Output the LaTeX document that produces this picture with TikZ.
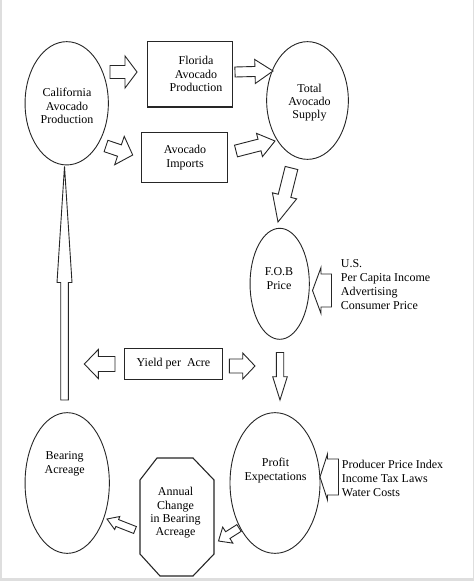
\documentclass[tikz,border=0pt]{standalone}
\usepackage{fontspec}
\setmainfont{Liberation Serif}
\usetikzlibrary{calc,shapes.geometric}
\tikzset{
  oval/.style={draw=black!85, line width=0.9pt, ellipse, inner sep=0pt},
  box/.style={draw=black!85, line width=1.1pt, inner sep=0pt},
  lbl/.style={align=center, font=\fontsize{12}{13.4}\selectfont, inner sep=0pt},
  side/.style={align=left, font=\fontsize{12}{13.9}\selectfont, inner sep=0pt, anchor=west},
  barrow/.style={draw=black!85, line width=0.9pt, line join=miter, fill=white},
}
\newcommand\blockarrow[5]{%
  \coordinate (#1-#2-h) at ($(#2)!#5!(#1)$);
  \draw[barrow] ($(#1)!#3!90:(#2)$) -- ($(#1-#2-h)!#3!-90:(#1)$) -- ($(#1-#2-h)!#4!-90:(#1)$)
    -- (#2) -- ($(#1-#2-h)!#4!90:(#1)$) -- ($(#1-#2-h)!#3!90:(#1)$) -- ($(#1)!#3!-90:(#2)$) -- cycle;
}
\begin{document}
\begin{tikzpicture}[x=1pt,y=-1pt]
\useasboundingbox (0,0) rectangle (474,581);
\fill[black!13] (0,0) rectangle (474,581);
\fill[white] (2,0) rectangle (472.5,578);

% ellipses
\node[oval, minimum width=83.3pt, minimum height=123.3pt] (cal) at (66.7,103.3) {};
\node[oval, minimum width=81.7pt, minimum height=117.7pt] (tot) at (307.5,100.5) {};
\node[oval, minimum width=59.3pt, minimum height=111pt] (fob) at (279.7,283.8) {};
\node[oval, minimum width=84.3pt, minimum height=140.7pt] (bear) at (67.2,483) {};
\node[oval, minimum width=90pt, minimum height=140.7pt] (prof) at (275,483) {};

% boxes
\node[box, minimum width=85pt, minimum height=65.3pt] (fla) at (190.2,74.3) {};
\node[box, minimum width=86pt, minimum height=50pt] (imp) at (184.7,157.7) {};
\node[box, minimum width=98.7pt, minimum height=31pt] (yld) at (173.4,363.8) {};
\draw[box] (157,458) -- (193,458) -- (214,480) -- (214,554) -- (193,576) -- (160,576) -- (140,554) -- (140,480) -- cycle;

% labels
\node[lbl] (calt) at (67,106) {California\\Avocado\\Production};
\node[lbl] (flat) at (196,74) {Florida\\Avocado\\Production};
\node[lbl] (tott) at (309.5,102.7) {Total\\Avocado\\Supply};
\node[lbl] (impt) at (185,157.5) {Avocado\\Imports};
\node[lbl] (fobt) at (279,278.5) {F.O.B\\Price};
\node[lbl] (yldt) at (173.5,364) {Yield per\ \ Acre};
\node[lbl] (beart) at (64.7,463.7) {Bearing\\Acreage};
\node[lbl] (proft) at (275.5,470.7) {Profit\\Expectations};
\node[lbl] (annt) at (175.5,513) {Annual\\Change\\in Bearing\\Acreage};
\node[side] (ust) at (340.7,284.5) {U.S.\\Per Capita Income\\Advertising\\Consumer Price};
\node[side] (ppt) at (341.7,478.7) {Producer Price Index\\Income Tax Laws\\Water Costs};

% block arrows
\coordinate (a1t) at (110,72);    \coordinate (a1h) at (137,72);
\blockarrow{a1t}{a1h}{6.5pt}{16pt}{12pt}
\coordinate (a2t) at (235,72);    \coordinate (a2h) at (273,71);
\blockarrow{a2t}{a2h}{5pt}{12pt}{18pt}
\coordinate (a3t) at (106,146);   \coordinate (a3h) at (132.7,155);
\blockarrow{a3t}{a3h}{6pt}{15pt}{14pt}
\coordinate (a4t) at (236,151);   \coordinate (a4h) at (275,141);
\blockarrow{a4t}{a4h}{6pt}{12pt}{16pt}
\coordinate (a5t) at (291.5,168); \coordinate (a5h) at (278,222);
\blockarrow{a5t}{a5h}{6.5pt}{12.5pt}{27pt}
\coordinate (a6t) at (331.5,290.5); \coordinate (a6h) at (312.5,290.5);
\blockarrow{a6t}{a6h}{16.5pt}{23pt}{8.5pt}
\coordinate (a7t) at (115,364);   \coordinate (a7h) at (84.3,364);
\blockarrow{a7t}{a7h}{7.5pt}{14.5pt}{14pt}
\coordinate (a8t) at (229.3,366); \coordinate (a8h) at (255,366);
\blockarrow{a8t}{a8h}{7pt}{13pt}{12.3pt}
\coordinate (a9t) at (280,352.5); \coordinate (a9h) at (280,400);
\blockarrow{a9t}{a9h}{3.7pt}{7.3pt}{23.3pt}
\coordinate (a10t) at (64.5,400); \coordinate (a10h) at (64.5,166.5);
\blockarrow{a10t}{a10h}{3.8pt}{7.5pt}{116pt}
\coordinate (a11t) at (338.5,477); \coordinate (a11h) at (320,477);
\blockarrow{a11t}{a11h}{18pt}{23pt}{7.5pt}
\coordinate (a12t) at (239,528);  \coordinate (a12h) at (218.5,541);
\blockarrow{a12t}{a12h}{4pt}{9.5pt}{11pt}
\coordinate (a13t) at (135,530);  \coordinate (a13h) at (107,519);
\blockarrow{a13t}{a13h}{3.7pt}{7pt}{11pt}
\end{tikzpicture}
\end{document}
